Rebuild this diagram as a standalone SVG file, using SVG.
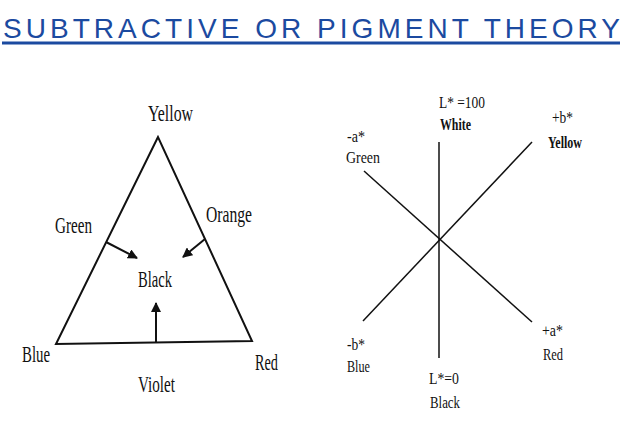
<svg xmlns="http://www.w3.org/2000/svg" width="638" height="442" viewBox="0 0 638 442">
<style>
.t{font-family:"Liberation Serif","DejaVu Serif",serif;fill:#111}
.l{font-size:24px}
.r{font-size:17px}
.ln{stroke:#111;fill:none}
</style>
<defs>
<marker id="ah" markerWidth="10" markerHeight="10" refX="9" refY="5" orient="auto" markerUnits="userSpaceOnUse" viewBox="0 0 10 10">
<path d="M0,0 L10,5 L0,10 Z" fill="#111"/>
</marker>
</defs>
<rect width="638" height="442" fill="#fff"/>
<g id="title">
<text x="3" y="38" font-family="Liberation Sans,Arial,sans-serif" font-size="28" fill="#1b4aa0" textLength="617" lengthAdjust="spacing">SUBTRACTIVE OR PIGMENT THEORY</text>
<rect x="2" y="41.5" width="618" height="3" fill="#1b4aa0"/>
</g>
<g id="triangle">
<path class="ln" stroke-width="2" d="M158,137 L56,344 L252,341 Z"/>
</g>
<g id="connectors">
<line class="ln" stroke-width="2" x1="106" y1="242" x2="137" y2="258" marker-end="url(#ah)"/>
<line class="ln" stroke-width="2" x1="205" y1="239" x2="183" y2="257" marker-end="url(#ah)"/>
<line class="ln" stroke-width="2" x1="156" y1="343" x2="156" y2="303" marker-end="url(#ah)"/>
<line class="ln" stroke-width="1.5" x1="439" y1="142" x2="439" y2="358"/>
<line class="ln" stroke-width="1.5" x1="364" y1="171" x2="532" y2="322"/>
<line class="ln" stroke-width="1.5" x1="532" y1="142" x2="363" y2="321"/>
</g>
<g id="n-yellow"><text class="t l" x="148" y="121" textLength="45" lengthAdjust="spacingAndGlyphs">Yellow</text></g>
<g id="n-green"><text class="t l" x="55" y="233" textLength="37" lengthAdjust="spacingAndGlyphs">Green</text></g>
<g id="n-orange"><text class="t l" x="206" y="222" textLength="46" lengthAdjust="spacingAndGlyphs">Orange</text></g>
<g id="n-black"><text class="t l" x="138" y="287" textLength="34" lengthAdjust="spacingAndGlyphs">Black</text></g>
<g id="n-blue"><text class="t l" x="22" y="362" textLength="28" lengthAdjust="spacingAndGlyphs">Blue</text></g>
<g id="n-red"><text class="t l" x="255" y="370" textLength="23" lengthAdjust="spacingAndGlyphs">Red</text></g>
<g id="n-violet"><text class="t l" x="138" y="392" textLength="37" lengthAdjust="spacingAndGlyphs">Violet</text></g>
<g id="n-white"><text class="t r" x="439" y="108" textLength="46" lengthAdjust="spacingAndGlyphs">L* =100</text><text class="t r" x="440" y="130" font-weight="bold" textLength="31" lengthAdjust="spacingAndGlyphs">White</text></g>
<g id="n-ga"><text class="t r" x="347" y="142" textLength="18" lengthAdjust="spacingAndGlyphs">-a*</text><text class="t r" x="346" y="163" textLength="34" lengthAdjust="spacingAndGlyphs">Green</text></g>
<g id="n-yb"><text class="t r" x="552" y="123" textLength="21" lengthAdjust="spacingAndGlyphs">+b*</text><text class="t r" x="548" y="148" font-weight="bold" textLength="34" lengthAdjust="spacingAndGlyphs">Yellow</text></g>
<g id="n-bb"><text class="t r" x="347" y="350" textLength="18" lengthAdjust="spacingAndGlyphs">-b*</text><text class="t r" x="347" y="372" textLength="23" lengthAdjust="spacingAndGlyphs">Blue</text></g>
<g id="n-ra"><text class="t r" x="542" y="336" textLength="21" lengthAdjust="spacingAndGlyphs">+a*</text><text class="t r" x="543" y="360" textLength="20" lengthAdjust="spacingAndGlyphs">Red</text></g>
<g id="n-bl"><text class="t r" x="429" y="384" textLength="30" lengthAdjust="spacingAndGlyphs">L*=0</text><text class="t r" x="430" y="408" textLength="30" lengthAdjust="spacingAndGlyphs">Black</text></g>
</svg>
